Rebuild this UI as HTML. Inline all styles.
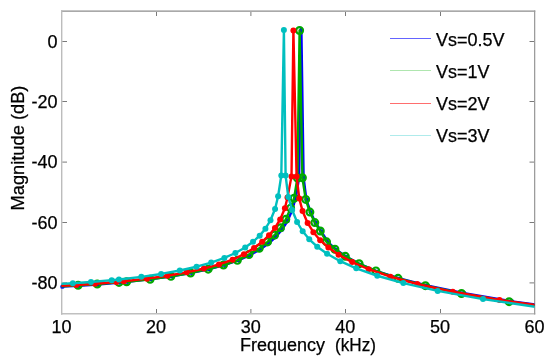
<!DOCTYPE html>
<html><head><meta charset="utf-8"><style>
html,body{margin:0;padding:0;background:#fff;width:550px;height:362px;overflow:hidden}
svg{display:block}
text{font-family:"Liberation Sans",Arial,sans-serif;font-size:18px;fill:#000;stroke:#000;stroke-width:0.25px}
</style></head><body>
<svg width="550" height="362" viewBox="0 0 550 362">
<defs><clipPath id="ax"><rect x="61.5" y="11" width="473" height="302.5"/></clipPath></defs>
<rect x="0" y="0" width="550" height="362" fill="#fff"/>
<g fill="none">
<line x1="61" y1="11.1" x2="535.3" y2="11.1" stroke="#8c8c8c" stroke-width="1.3"/>
<line x1="61" y1="313.8" x2="535.3" y2="313.8" stroke="#c0c0c0" stroke-width="1.5"/>
<line x1="61.7" y1="10.3" x2="61.7" y2="314.7" stroke="#bcbcbc" stroke-width="1.4"/>
<line x1="534.65" y1="10.4" x2="534.65" y2="314.6" stroke="#9a9a9a" stroke-width="1.25"/>
<g stroke="#7a7a7a" stroke-width="1">
<line x1="156.50" y1="313" x2="156.50" y2="309" />
<line x1="156.50" y1="12" x2="156.50" y2="16" />
<line x1="250.90" y1="313" x2="250.90" y2="309" />
<line x1="250.90" y1="12" x2="250.90" y2="16" />
<line x1="345.50" y1="313" x2="345.50" y2="309" />
<line x1="345.50" y1="12" x2="345.50" y2="16" />
<line x1="440.50" y1="313" x2="440.50" y2="309" />
<line x1="440.50" y1="12" x2="440.50" y2="16" />
<line x1="62.4" y1="41.50" x2="67" y2="41.50" />
<line x1="534" y1="41.50" x2="529.5" y2="41.50" />
<line x1="62.4" y1="101.50" x2="67" y2="101.50" />
<line x1="534" y1="101.50" x2="529.5" y2="101.50" />
<line x1="62.4" y1="162.10" x2="67" y2="162.10" />
<line x1="534" y1="162.10" x2="529.5" y2="162.10" />
<line x1="62.4" y1="222.50" x2="67" y2="222.50" />
<line x1="534" y1="222.50" x2="529.5" y2="222.50" />
<line x1="62.4" y1="282.90" x2="67" y2="282.90" />
<line x1="534" y1="282.90" x2="529.5" y2="282.90" />
</g>
</g>
<polyline points="48.54,287.27 62.42,286.65 78.76,285.77 97.96,284.51 119.81,282.62 127.50,281.84 151.14,279.10 172.03,276.20 191.77,272.80 209.48,268.99 224.89,264.86 238.83,260.19 250.46,254.90 260.83,248.97 269.11,243.00 276.15,236.58 282.20,229.40 287.55,221.01 292.39,209.81 295.99,196.37 299.10,177.80 301.40,30.00 303.60,177.50 306.40,199.80 310.80,212.50 315.70,223.00 321.20,231.50 328.50,242.75 336.91,250.13 347.34,257.26 361.25,264.69 378.12,271.74 400.33,278.75 427.87,285.61 464.17,293.16 512.04,301.39 573.84,309.92 663.17,319.73" fill="none" stroke="#0000ff" stroke-width="2.4" stroke-linejoin="round" clip-path="url(#ax)"/>
<circle cx="62.42" cy="286.65" r="2.2" fill="#0000ff"/>
<circle cx="78.76" cy="285.77" r="2.2" fill="#0000ff"/>
<circle cx="97.96" cy="284.51" r="2.2" fill="#0000ff"/>
<circle cx="119.81" cy="282.62" r="2.2" fill="#0000ff"/>
<circle cx="127.50" cy="281.84" r="2.2" fill="#0000ff"/>
<circle cx="151.14" cy="279.10" r="2.2" fill="#0000ff"/>
<circle cx="172.03" cy="276.20" r="2.2" fill="#0000ff"/>
<circle cx="191.77" cy="272.80" r="2.2" fill="#0000ff"/>
<circle cx="209.48" cy="268.99" r="2.2" fill="#0000ff"/>
<circle cx="224.89" cy="264.86" r="2.2" fill="#0000ff"/>
<circle cx="238.83" cy="260.19" r="2.2" fill="#0000ff"/>
<circle cx="250.46" cy="254.90" r="2.2" fill="#0000ff"/>
<circle cx="260.83" cy="248.97" r="2.2" fill="#0000ff"/>
<circle cx="269.11" cy="243.00" r="2.2" fill="#0000ff"/>
<circle cx="276.15" cy="236.58" r="2.2" fill="#0000ff"/>
<circle cx="282.20" cy="229.40" r="2.2" fill="#0000ff"/>
<circle cx="287.55" cy="221.01" r="2.2" fill="#0000ff"/>
<circle cx="292.39" cy="209.81" r="2.2" fill="#0000ff"/>
<circle cx="295.99" cy="196.37" r="2.2" fill="#0000ff"/>
<circle cx="299.10" cy="177.80" r="2.2" fill="#0000ff"/>
<circle cx="301.40" cy="30.00" r="2.2" fill="#0000ff"/>
<circle cx="303.60" cy="177.50" r="2.2" fill="#0000ff"/>
<circle cx="306.40" cy="199.80" r="2.2" fill="#0000ff"/>
<circle cx="310.80" cy="212.50" r="2.2" fill="#0000ff"/>
<circle cx="315.70" cy="223.00" r="2.2" fill="#0000ff"/>
<circle cx="321.20" cy="231.50" r="2.2" fill="#0000ff"/>
<circle cx="328.50" cy="242.75" r="2.2" fill="#0000ff"/>
<circle cx="336.91" cy="250.13" r="2.2" fill="#0000ff"/>
<circle cx="347.34" cy="257.26" r="2.2" fill="#0000ff"/>
<circle cx="361.25" cy="264.69" r="2.2" fill="#0000ff"/>
<circle cx="378.12" cy="271.74" r="2.2" fill="#0000ff"/>
<circle cx="400.33" cy="278.75" r="2.2" fill="#0000ff"/>
<circle cx="427.87" cy="285.61" r="2.2" fill="#0000ff"/>
<circle cx="464.17" cy="293.16" r="2.2" fill="#0000ff"/>
<circle cx="512.04" cy="301.39" r="2.2" fill="#0000ff"/>
<polyline points="48.10,286.82 61.91,286.20 78.16,285.32 97.25,284.06 118.99,282.40 126.64,281.72 150.15,279.25 170.92,276.35 190.56,272.95 208.18,269.14 223.51,265.01 237.36,260.34 248.94,254.60 259.25,248.20 267.49,241.88 274.48,235.15 280.51,227.74 285.82,219.35 290.64,208.15 294.10,198.20 297.40,178.00 299.60,30.50 302.40,177.70 305.70,199.40 309.90,212.10 314.80,222.60 320.30,231.00 326.55,241.84 334.92,249.23 345.30,256.35 359.13,263.78 375.91,270.89 398.00,278.32 425.39,285.68 461.50,293.46 509.10,301.69 570.58,310.22 659.42,320.03" fill="none" stroke="#00a800" stroke-width="2.4" stroke-linejoin="round" clip-path="url(#ax)"/>
<circle cx="78.16" cy="285.32" r="3.4" fill="none" stroke="#00a800" stroke-width="2.2"/>
<circle cx="97.25" cy="284.06" r="3.4" fill="none" stroke="#00a800" stroke-width="2.2"/>
<circle cx="118.99" cy="282.40" r="3.4" fill="none" stroke="#00a800" stroke-width="2.2"/>
<circle cx="126.64" cy="281.72" r="3.4" fill="none" stroke="#00a800" stroke-width="2.2"/>
<circle cx="150.15" cy="279.25" r="3.4" fill="none" stroke="#00a800" stroke-width="2.2"/>
<circle cx="170.92" cy="276.35" r="3.4" fill="none" stroke="#00a800" stroke-width="2.2"/>
<circle cx="190.56" cy="272.95" r="3.4" fill="none" stroke="#00a800" stroke-width="2.2"/>
<circle cx="208.18" cy="269.14" r="3.4" fill="none" stroke="#00a800" stroke-width="2.2"/>
<circle cx="223.51" cy="265.01" r="3.4" fill="none" stroke="#00a800" stroke-width="2.2"/>
<circle cx="237.36" cy="260.34" r="3.4" fill="none" stroke="#00a800" stroke-width="2.2"/>
<circle cx="248.94" cy="254.60" r="3.4" fill="none" stroke="#00a800" stroke-width="2.2"/>
<circle cx="259.25" cy="248.20" r="3.4" fill="none" stroke="#00a800" stroke-width="2.2"/>
<circle cx="267.49" cy="241.88" r="3.4" fill="none" stroke="#00a800" stroke-width="2.2"/>
<circle cx="274.48" cy="235.15" r="3.4" fill="none" stroke="#00a800" stroke-width="2.2"/>
<circle cx="280.51" cy="227.74" r="3.4" fill="none" stroke="#00a800" stroke-width="2.2"/>
<circle cx="285.82" cy="219.35" r="3.4" fill="none" stroke="#00a800" stroke-width="2.2"/>
<circle cx="290.64" cy="208.15" r="3.4" fill="none" stroke="#00a800" stroke-width="2.2"/>
<circle cx="294.10" cy="198.20" r="3.4" fill="none" stroke="#00a800" stroke-width="2.2"/>
<circle cx="297.40" cy="178.00" r="3.4" fill="none" stroke="#00a800" stroke-width="2.2"/>
<circle cx="299.60" cy="30.50" r="3.4" fill="none" stroke="#00a800" stroke-width="2.2"/>
<circle cx="302.40" cy="177.70" r="3.4" fill="none" stroke="#00a800" stroke-width="2.2"/>
<circle cx="305.70" cy="199.40" r="3.4" fill="none" stroke="#00a800" stroke-width="2.2"/>
<circle cx="309.90" cy="212.10" r="3.4" fill="none" stroke="#00a800" stroke-width="2.2"/>
<circle cx="314.80" cy="222.60" r="3.4" fill="none" stroke="#00a800" stroke-width="2.2"/>
<circle cx="320.30" cy="231.00" r="3.4" fill="none" stroke="#00a800" stroke-width="2.2"/>
<circle cx="326.55" cy="241.84" r="3.4" fill="none" stroke="#00a800" stroke-width="2.2"/>
<circle cx="334.92" cy="249.23" r="3.4" fill="none" stroke="#00a800" stroke-width="2.2"/>
<circle cx="345.30" cy="256.35" r="3.4" fill="none" stroke="#00a800" stroke-width="2.2"/>
<circle cx="359.13" cy="263.78" r="3.4" fill="none" stroke="#00a800" stroke-width="2.2"/>
<circle cx="375.91" cy="270.89" r="3.4" fill="none" stroke="#00a800" stroke-width="2.2"/>
<circle cx="398.00" cy="278.32" r="3.4" fill="none" stroke="#00a800" stroke-width="2.2"/>
<circle cx="425.39" cy="285.68" r="3.4" fill="none" stroke="#00a800" stroke-width="2.2"/>
<circle cx="461.50" cy="293.46" r="3.4" fill="none" stroke="#00a800" stroke-width="2.2"/>
<circle cx="509.10" cy="301.69" r="3.4" fill="none" stroke="#00a800" stroke-width="2.2"/>
<polyline points="46.66,286.52 60.22,285.90 76.18,285.02 94.94,283.76 116.29,281.98 123.81,281.25 146.90,278.64 167.31,275.75 186.60,272.34 203.90,268.54 218.95,264.41 232.57,259.74 243.93,254.18 254.06,247.98 262.16,241.81 269.03,235.21 274.94,227.89 280.16,219.50 284.90,208.30 287.50,197.50 291.50,176.40 293.40,30.60 296.60,176.40 299.30,198.60 302.54,210.92 307.61,222.91 313.39,232.18 320.17,240.18 328.39,247.57 338.58,254.69 352.17,262.12 368.65,269.23 390.35,276.66 417.26,284.02 452.72,291.80 499.48,300.03 559.87,308.56 647.14,318.37" fill="none" stroke="#ff0000" stroke-width="2.4" stroke-linejoin="round" clip-path="url(#ax)"/>
<circle cx="76.18" cy="285.02" r="3" fill="#ff0000"/>
<circle cx="94.94" cy="283.76" r="3" fill="#ff0000"/>
<circle cx="116.29" cy="281.98" r="3" fill="#ff0000"/>
<circle cx="123.81" cy="281.25" r="3" fill="#ff0000"/>
<circle cx="146.90" cy="278.64" r="3" fill="#ff0000"/>
<circle cx="167.31" cy="275.75" r="3" fill="#ff0000"/>
<circle cx="186.60" cy="272.34" r="3" fill="#ff0000"/>
<circle cx="203.90" cy="268.54" r="3" fill="#ff0000"/>
<circle cx="218.95" cy="264.41" r="3" fill="#ff0000"/>
<circle cx="232.57" cy="259.74" r="3" fill="#ff0000"/>
<circle cx="243.93" cy="254.18" r="3" fill="#ff0000"/>
<circle cx="254.06" cy="247.98" r="3" fill="#ff0000"/>
<circle cx="262.16" cy="241.81" r="3" fill="#ff0000"/>
<circle cx="269.03" cy="235.21" r="3" fill="#ff0000"/>
<circle cx="274.94" cy="227.89" r="3" fill="#ff0000"/>
<circle cx="280.16" cy="219.50" r="3" fill="#ff0000"/>
<circle cx="284.90" cy="208.30" r="3" fill="#ff0000"/>
<circle cx="287.50" cy="197.50" r="3" fill="#ff0000"/>
<circle cx="291.50" cy="176.40" r="3" fill="#ff0000"/>
<circle cx="293.40" cy="30.60" r="3" fill="#ff0000"/>
<circle cx="296.60" cy="176.40" r="3" fill="#ff0000"/>
<circle cx="299.30" cy="198.60" r="3" fill="#ff0000"/>
<circle cx="302.54" cy="210.92" r="3" fill="#ff0000"/>
<circle cx="307.61" cy="222.91" r="3" fill="#ff0000"/>
<circle cx="313.39" cy="232.18" r="3" fill="#ff0000"/>
<circle cx="320.17" cy="240.18" r="3" fill="#ff0000"/>
<circle cx="328.39" cy="247.57" r="3" fill="#ff0000"/>
<circle cx="338.58" cy="254.69" r="3" fill="#ff0000"/>
<circle cx="352.17" cy="262.12" r="3" fill="#ff0000"/>
<circle cx="368.65" cy="269.23" r="3" fill="#ff0000"/>
<circle cx="390.35" cy="276.66" r="3" fill="#ff0000"/>
<circle cx="417.26" cy="284.02" r="3" fill="#ff0000"/>
<circle cx="452.72" cy="291.80" r="3" fill="#ff0000"/>
<circle cx="499.48" cy="300.03" r="3" fill="#ff0000"/>
<polyline points="44.20,284.71 57.34,284.09 72.80,283.21 90.98,281.95 111.67,280.17 118.95,279.44 141.33,276.83 161.11,273.94 179.80,270.53 196.57,266.72 211.16,262.60 224.35,257.92 235.37,253.02 245.18,247.47 253.03,241.81 259.69,235.63 265.42,228.65 270.48,220.25 275.07,209.05 278.10,196.20 281.30,175.50 283.90,29.90 285.60,175.50 288.30,197.00 292.16,210.02 297.08,222.00 302.67,231.28 309.25,239.28 317.22,246.66 327.09,253.79 340.26,261.21 356.23,268.32 377.26,275.75 403.33,283.11 437.70,290.90 483.02,299.12 541.54,307.65 626.11,317.46" fill="none" stroke="#00bfbf" stroke-width="2.4" stroke-linejoin="round" clip-path="url(#ax)"/>
<circle cx="72.80" cy="283.21" r="3" fill="#00bfbf"/>
<circle cx="90.98" cy="281.95" r="3" fill="#00bfbf"/>
<circle cx="111.67" cy="280.17" r="3" fill="#00bfbf"/>
<circle cx="118.95" cy="279.44" r="3" fill="#00bfbf"/>
<circle cx="141.33" cy="276.83" r="3" fill="#00bfbf"/>
<circle cx="161.11" cy="273.94" r="3" fill="#00bfbf"/>
<circle cx="179.80" cy="270.53" r="3" fill="#00bfbf"/>
<circle cx="196.57" cy="266.72" r="3" fill="#00bfbf"/>
<circle cx="211.16" cy="262.60" r="3" fill="#00bfbf"/>
<circle cx="224.35" cy="257.92" r="3" fill="#00bfbf"/>
<circle cx="235.37" cy="253.02" r="3" fill="#00bfbf"/>
<circle cx="245.18" cy="247.47" r="3" fill="#00bfbf"/>
<circle cx="253.03" cy="241.81" r="3" fill="#00bfbf"/>
<circle cx="259.69" cy="235.63" r="3" fill="#00bfbf"/>
<circle cx="265.42" cy="228.65" r="3" fill="#00bfbf"/>
<circle cx="270.48" cy="220.25" r="3" fill="#00bfbf"/>
<circle cx="275.07" cy="209.05" r="3" fill="#00bfbf"/>
<circle cx="278.10" cy="196.20" r="3" fill="#00bfbf"/>
<circle cx="281.30" cy="175.50" r="3" fill="#00bfbf"/>
<circle cx="283.90" cy="29.90" r="3" fill="#00bfbf"/>
<circle cx="285.60" cy="175.50" r="3" fill="#00bfbf"/>
<circle cx="288.30" cy="197.00" r="3" fill="#00bfbf"/>
<circle cx="292.16" cy="210.02" r="3" fill="#00bfbf"/>
<circle cx="297.08" cy="222.00" r="3" fill="#00bfbf"/>
<circle cx="302.67" cy="231.28" r="3" fill="#00bfbf"/>
<circle cx="309.25" cy="239.28" r="3" fill="#00bfbf"/>
<circle cx="317.22" cy="246.66" r="3" fill="#00bfbf"/>
<circle cx="327.09" cy="253.79" r="3" fill="#00bfbf"/>
<circle cx="340.26" cy="261.21" r="3" fill="#00bfbf"/>
<circle cx="356.23" cy="268.32" r="3" fill="#00bfbf"/>
<circle cx="377.26" cy="275.75" r="3" fill="#00bfbf"/>
<circle cx="403.33" cy="283.11" r="3" fill="#00bfbf"/>
<circle cx="437.70" cy="290.90" r="3" fill="#00bfbf"/>
<circle cx="483.02" cy="299.12" r="3" fill="#00bfbf"/>
<text x="61.5" y="332.5" text-anchor="middle">10</text>
<text x="156.1" y="332.5" text-anchor="middle">20</text>
<text x="250.7" y="332.5" text-anchor="middle">30</text>
<text x="345.3" y="332.5" text-anchor="middle">40</text>
<text x="439.9" y="332.5" text-anchor="middle">50</text>
<text x="534.5" y="332.5" text-anchor="middle">60</text>
<text x="57.5" y="47.6" text-anchor="end">0</text>
<text x="57.5" y="107.6" text-anchor="end">-20</text>
<text x="57.5" y="168.2" text-anchor="end">-40</text>
<text x="57.5" y="228.6" text-anchor="end">-60</text>
<text x="57.5" y="289.0" text-anchor="end">-80</text>
<line x1="390" y1="38.5" x2="431" y2="38.5" stroke="#6464ff" stroke-width="1"/>
<text x="436" y="45.5">Vs=0.5V</text>
<line x1="390" y1="70.5" x2="431" y2="70.5" stroke="#afe6af" stroke-width="1"/>
<text x="436" y="77.7">Vs=1V</text>
<line x1="390" y1="103.5" x2="431" y2="103.5" stroke="#ff6e6e" stroke-width="1"/>
<text x="436" y="109.9">Vs=2V</text>
<line x1="390" y1="135.5" x2="431" y2="135.5" stroke="#afebeb" stroke-width="1"/>
<text x="436" y="142.1">Vs=3V</text>
<text x="240" y="350.5">Frequency</text><text x="335" y="350.5" textLength="40.9" lengthAdjust="spacingAndGlyphs">(kHz)</text>
<text transform="translate(24.3,210.5) rotate(-90) scale(1.016,1)">Magnitude (dB)</text>
</svg>
</body></html>
